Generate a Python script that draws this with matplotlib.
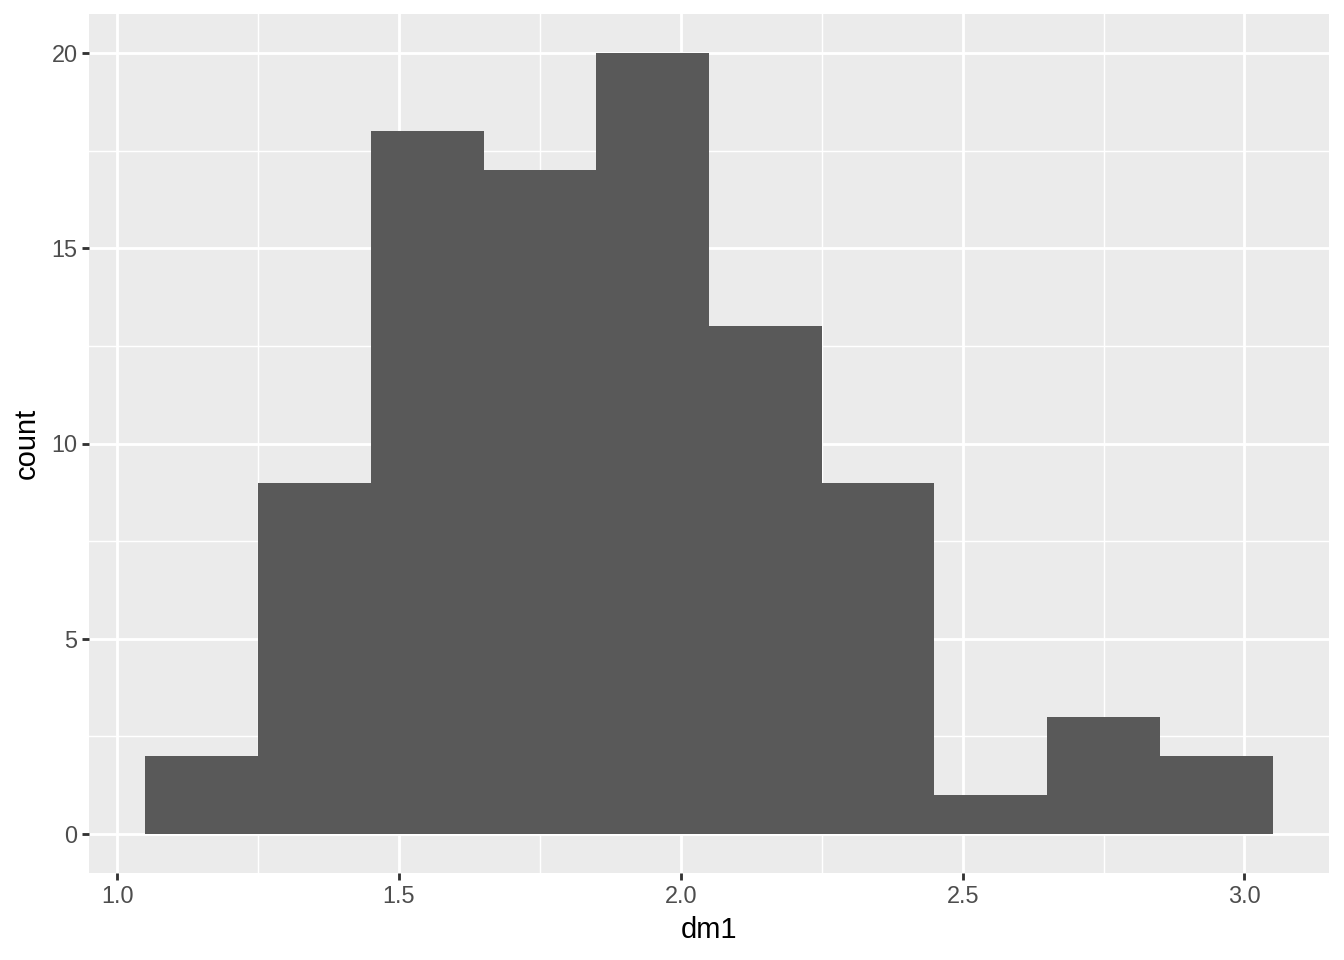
import numpy as np
import matplotlib
matplotlib.use("Agg")
import matplotlib.pyplot as plt

# histogram bins (binwidth 0.2) and counts
bin_edges = [1.05, 1.25, 1.45, 1.65, 1.85, 2.05, 2.25, 2.45, 2.65, 2.85, 3.05]
counts = [2, 9, 18, 17, 20, 13, 9, 1, 3, 2]
x_ticks = [1.0, 1.5, 2.0, 2.5, 3.0]
x_tick_labels = ["1.0", "1.5", "2.0", "2.5", "3.0"]
y_ticks = [0, 5, 10, 15, 20]

plt.rcParams['font.family'] = ['Liberation Sans', 'DejaVu Sans']

fig = plt.figure(figsize=(13.44, 9.6), dpi=100)
ax = fig.add_axes([89 / 1344, 1 - 873 / 960, 1240 / 1344, 859 / 960])

ax.set_facecolor("#EBEBEB")
for s in ax.spines.values():
    s.set_visible(False)

# grid
lo, hi = bin_edges[0], bin_edges[-1]
pad = 0.05 * (hi - lo)
ax.set_xlim(lo - pad, hi + pad)
ax.set_ylim(-0.05 * max(counts), 1.05 * max(counts))

ax.set_xticks(x_ticks)
ax.set_xticklabels(x_tick_labels)
ax.set_yticks(y_ticks)
minor_x = [(a + b) / 2 for a, b in zip(x_ticks[:-1], x_ticks[1:])]
minor_y = [(a + b) / 2 for a, b in zip(y_ticks[:-1], y_ticks[1:])]
ax.set_xticks(minor_x, minor=True)
ax.set_yticks(minor_y, minor=True)

ax.grid(which="major", color="white", linewidth=2.05)
ax.grid(which="minor", color="white", linewidth=1.02)
ax.set_axisbelow(True)

widths = np.diff(bin_edges)
ax.bar(bin_edges[:-1], counts, width=widths, align="edge", color="#595959",
       linewidth=0, zorder=2)

ax.tick_params(which="major", length=5.3, width=2.05, color="#333333",
               labelcolor="#4D4D4D", labelsize=16.9, pad=3)
ax.tick_params(which="minor", length=0)

ax.set_xlabel("dm1", fontsize=21, color="black", labelpad=6)
ax.set_ylabel("count", fontsize=21, color="black", labelpad=8)

fig.savefig("out.png", dpi=100)
